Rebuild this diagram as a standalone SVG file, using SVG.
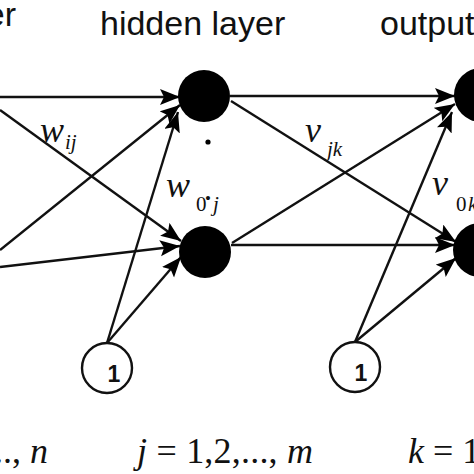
<svg xmlns="http://www.w3.org/2000/svg" width="474" height="474" viewBox="0 0 474 474">
<style>
.lbl{font-family:"Liberation Sans",Arial,sans-serif;font-size:34px;fill:#111}
.m{font-family:"Liberation Serif","Times New Roman",serif;fill:#111}
.it{font-style:italic}
.conn line{stroke:#111;stroke-width:2.4;marker-end:url(#ah)}
.neuron{fill:#000}
.bias{fill:#fff;stroke:#111;stroke-width:2.4}
.one{font-family:"Liberation Sans",Arial,sans-serif;font-weight:bold;font-size:23px;fill:#111;text-anchor:middle}
</style>
<defs>
<marker id="ah" markerUnits="userSpaceOnUse" markerWidth="22" markerHeight="18" refX="20" refY="8" orient="auto">
<path d="M0,0 L20,8 L0,16 L4,8 z" fill="#000"/>
</marker>
</defs>
<rect width="474" height="474" fill="#fff"/>
<text class="lbl" x="16" y="26" text-anchor="end">input layer</text>
<text class="lbl" x="100" y="35">hidden layer</text>
<text class="lbl" x="380" y="35">output layer</text>
<g class="conn" id="connectors">
<line x1="0" y1="97" x2="180" y2="97"/>
<line x1="0" y1="250" x2="180" y2="105"/>
<line x1="107" y1="343" x2="178" y2="112"/>
<line x1="0" y1="110" x2="181" y2="241"/>
<line x1="0" y1="267" x2="180" y2="246"/>
<line x1="107" y1="343" x2="181" y2="257"/>
<line x1="230" y1="96" x2="455" y2="96"/>
<line x1="232" y1="243" x2="455" y2="104"/>
<line x1="355" y1="342" x2="452" y2="112"/>
<line x1="231" y1="101" x2="456" y2="242"/>
<line x1="231" y1="245" x2="455" y2="245"/>
<line x1="355" y1="342" x2="456" y2="258"/>
</g>
<g id="hidden1"><circle class="neuron" cx="204" cy="96" r="26"/></g>
<g id="hidden2"><circle class="neuron" cx="205" cy="252" r="26"/></g>
<g id="output1"><circle class="neuron" cx="481" cy="95" r="27"/></g>
<g id="output2"><circle class="neuron" cx="480" cy="250" r="27"/></g>
<g id="bias1"><circle class="bias" cx="107" cy="368" r="25"/><text class="one" x="114" y="382">1</text></g>
<g id="bias2"><circle class="bias" cx="355" cy="367" r="25"/><text class="one" x="361" y="381">1</text></g>
<circle cx="208" cy="142" r="2.6" fill="#000"/>
<text class="m it" x="40" y="142" font-size="36">w</text>
<text class="m it" x="65" y="149" font-size="21">ij</text>
<text class="m it" x="305" y="142" font-size="36">v</text>
<text class="m it" x="327" y="156" font-size="21">jk</text>
<text class="m it" x="166" y="197" font-size="36">w</text>
<text class="m" x="196" y="211" font-size="21">0</text>
<text class="m" x="205" y="204" font-size="17">•</text>
<text class="m it" x="213" y="211" font-size="21">j</text>
<text class="m it" x="432" y="195" font-size="36">v</text>
<text class="m" x="456" y="211" font-size="21">0</text>
<text class="m it" x="468" y="211" font-size="21">k</text>
<text class="m" x="48" y="463" font-size="36" text-anchor="end"><tspan class="it">i</tspan> = 1,2,..., <tspan class="it">n</tspan></text>
<text class="m" x="137" y="463" font-size="36" textLength="176" lengthAdjust="spacing"><tspan class="it">j</tspan> = 1,2,..., <tspan class="it">m</tspan></text>
<text class="m" x="408" y="463" font-size="36"><tspan class="it">k</tspan> = 1,2,..., <tspan class="it">l</tspan></text>
</svg>
